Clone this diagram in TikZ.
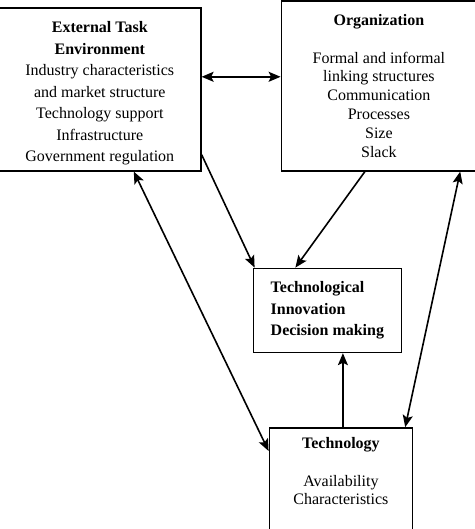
\documentclass[tikz,border=0pt]{standalone}
\usepackage{fontspec}
\setmainfont{Liberation Serif}
\usetikzlibrary{arrows.meta,positioning}
\tikzset{
  block/.style={
    rectangle,
    draw=black, line width=1.6pt,
    align=center,
    inner sep=0pt
  },
  link/.style={line width=1.6pt},
  loosetext/.style={font=\fontsize{16}{21.5}\selectfont},
  densetext/.style={font=\fontsize{16}{18.8}\selectfont},
}
\begin{document}
\begin{tikzpicture}[x=1pt,y=1pt,>={Stealth[length=12pt,width=10pt,inset=2.5pt]}]
\useasboundingbox (0,0) rectangle (474,529);

% boxes
\node[block, loosetext, minimum width=202pt, minimum height=163pt, anchor=north west] (EXT) at (-2,522) {\mbox{}\\[-2pt]\textbf{External Task}\\\textbf{Environment}\\Industry characteristics\\and market structure\\Technology support\\Infrastructure\\Government regulation};
\node[block, densetext, minimum width=195pt, minimum height=170pt, above right=7pt and 79pt of EXT.north east, anchor=north west] (ORG) {\textbf{Organization}\\[18.8pt]Formal and informal\\linking structures\\Communication\\Processes\\Size\\Slack};
\node[block, loosetext, align=left, minimum width=148pt, minimum height=84pt, below right=96pt and 51pt of EXT.south east, anchor=north west] (TIDM) {\bfseries Technological\\\bfseries Innovation\\\bfseries Decision making};
\node[block, densetext, minimum width=143pt, minimum height=105pt, below right=74pt and 16pt of TIDM.south west, anchor=north west] (TECH) {\textbf{Technology}\\[18.8pt]Availability\\Characteristics\\\mbox{}};

% links
\draw [link, <->] ([yshift=12.5pt]EXT.east) -- ([yshift=9pt]ORG.west);
\draw [link, ->] ([yshift=17pt]EXT.south east) -- ([xshift=2pt]TIDM.north west);
\draw [link, ->] ([xshift=-14pt]ORG.south) -- ([xshift=-32pt]TIDM.north);
\draw [link, <->] ([xshift=34pt]EXT.south) -- ([yshift=29.5pt]TECH.west);
\draw [link, <->] ([xshift=-17pt]ORG.south east) -- ([xshift=-8pt]TECH.north east);
\draw [link, ->] ([xshift=2pt]TECH.north) -- ([xshift=2pt]TECH.north |- TIDM.south);
\end{tikzpicture}
\end{document}
